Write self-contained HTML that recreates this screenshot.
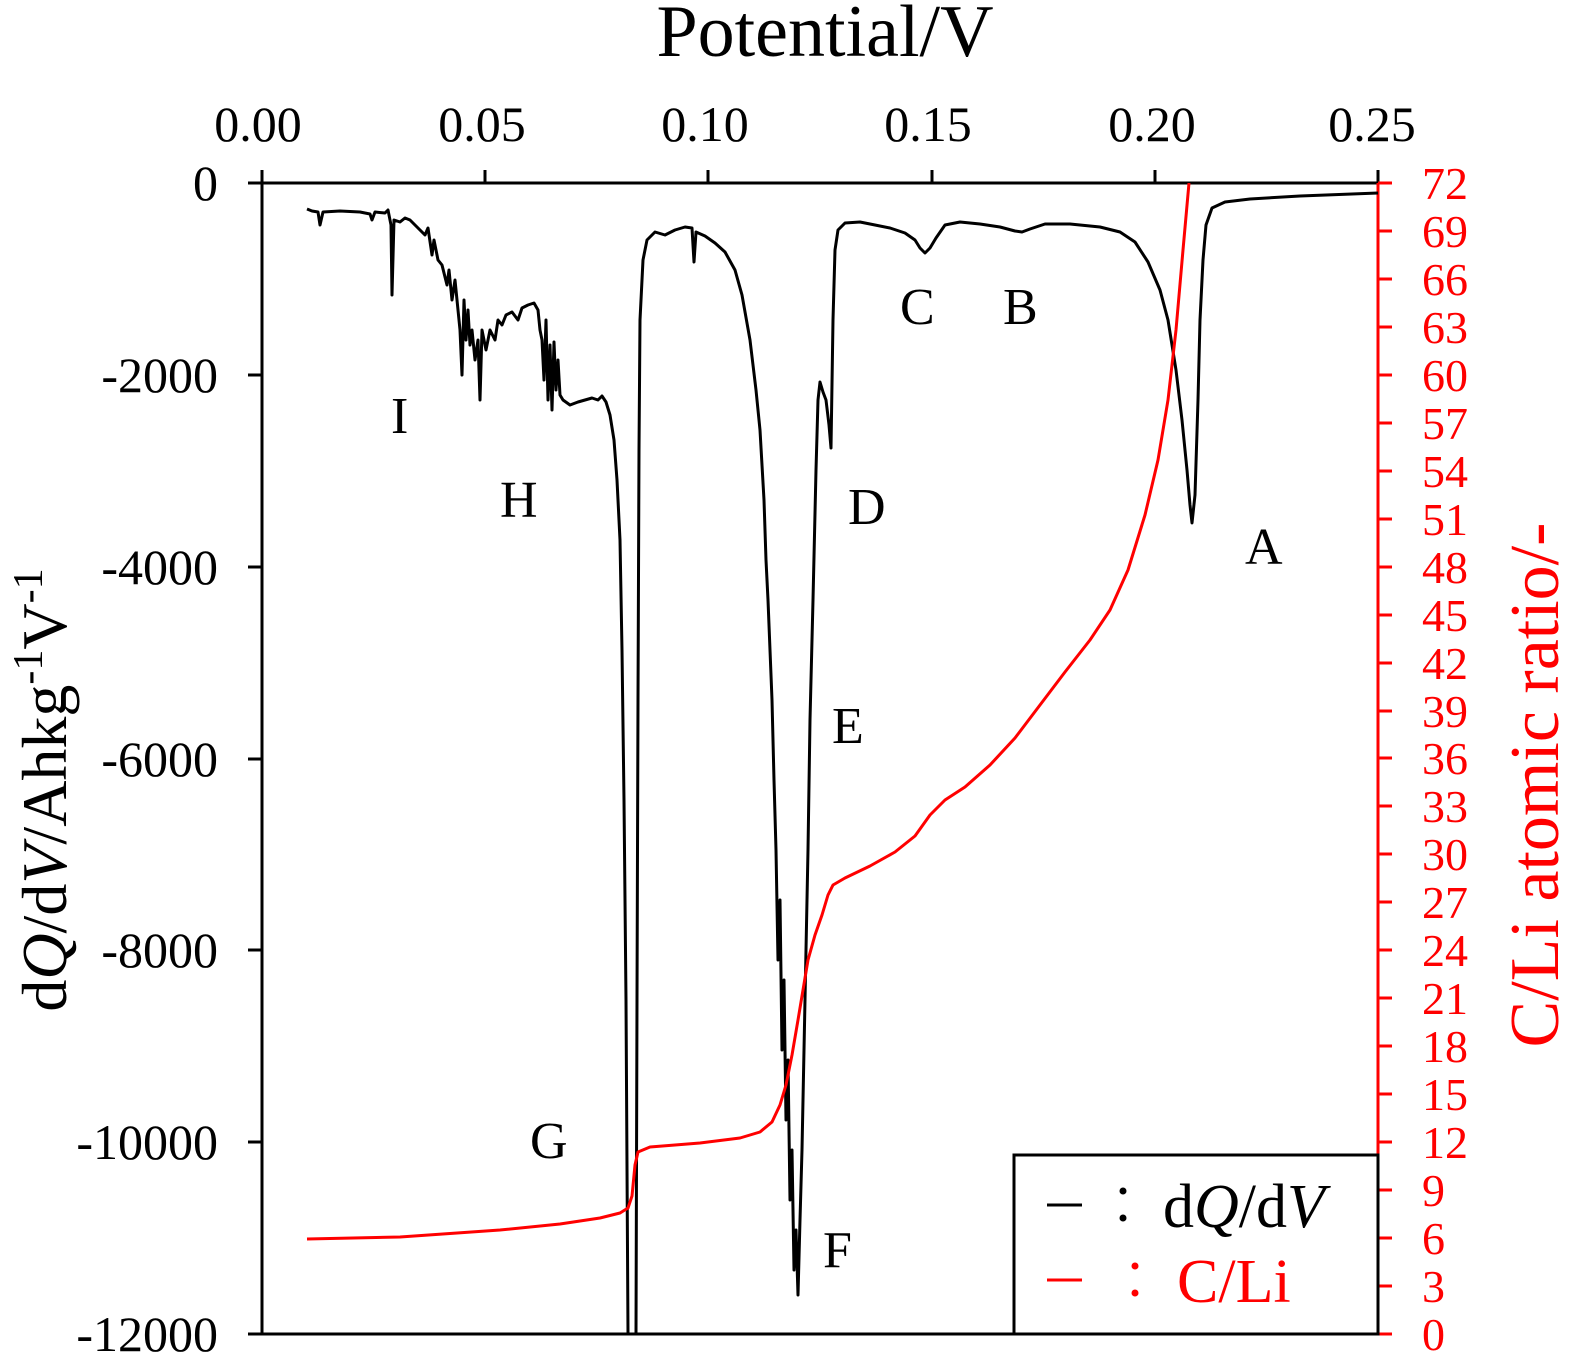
<!DOCTYPE html>
<html><head><style>
body{margin:0;background:#fff}
svg text{font-family:"Liberation Serif",serif}
</style></head><body>
<svg width="1570" height="1357" viewBox="0 0 1570 1357" xmlns="http://www.w3.org/2000/svg">
<rect width="1570" height="1357" fill="#fff"/>
<text x="825" y="56" font-size="74" text-anchor="middle">Potential/V</text>
<g font-size="50" text-anchor="middle">
<text x="258" y="141">0.00</text><text x="482" y="141">0.05</text><text x="705" y="141">0.10</text>
<text x="928" y="141">0.15</text><text x="1152" y="141">0.20</text><text x="1372" y="141">0.25</text>
</g>
<g stroke="#000" stroke-width="3">
<line x1="262" y1="183" x2="1378" y2="183"/>
<line x1="262" y1="183" x2="262" y2="1334"/>
<line x1="262" y1="1334" x2="1378" y2="1334"/>
<line x1="262" y1="170" x2="262" y2="183"/><line x1="485" y1="170" x2="485" y2="183"/>
<line x1="708" y1="170" x2="708" y2="183"/><line x1="932" y1="170" x2="932" y2="183"/>
<line x1="1155" y1="170" x2="1155" y2="183"/><line x1="1378" y1="170" x2="1378" y2="183"/>
<line x1="248" y1="183" x2="262" y2="183"/><line x1="248" y1="375" x2="262" y2="375"/>
<line x1="248" y1="567" x2="262" y2="567"/><line x1="248" y1="759" x2="262" y2="759"/>
<line x1="248" y1="950" x2="262" y2="950"/><line x1="248" y1="1142" x2="262" y2="1142"/>
<line x1="248" y1="1334" x2="262" y2="1334"/>
</g>
<g font-size="50" text-anchor="end">
<text x="218" y="200">0</text><text x="218" y="392">-2000</text><text x="218" y="584">-4000</text>
<text x="218" y="776">-6000</text><text x="218" y="967">-8000</text><text x="218" y="1159">-10000</text>
<text x="218" y="1351">-12000</text>
</g>
<text transform="translate(66,790) rotate(-90)" font-size="64" text-anchor="middle">d<tspan font-style="italic">Q</tspan>/d<tspan font-style="italic">V</tspan>/Ahkg<tspan dy="-24" font-size="42">-1</tspan><tspan dy="24">V</tspan><tspan dy="-24" font-size="42">-1</tspan></text>
<g stroke="#f00" stroke-width="3">
<line x1="1378" y1="183" x2="1378" y2="1334"/>
<line x1="1378" y1="1334" x2="1392" y2="1334"/><line x1="1378" y1="1286" x2="1392" y2="1286"/>
<line x1="1378" y1="1238" x2="1392" y2="1238"/><line x1="1378" y1="1190" x2="1392" y2="1190"/>
<line x1="1378" y1="1142" x2="1392" y2="1142"/><line x1="1378" y1="1094" x2="1392" y2="1094"/>
<line x1="1378" y1="1046" x2="1392" y2="1046"/><line x1="1378" y1="998" x2="1392" y2="998"/>
<line x1="1378" y1="950" x2="1392" y2="950"/><line x1="1378" y1="902" x2="1392" y2="902"/>
<line x1="1378" y1="854" x2="1392" y2="854"/><line x1="1378" y1="806" x2="1392" y2="806"/>
<line x1="1378" y1="758" x2="1392" y2="758"/><line x1="1378" y1="711" x2="1392" y2="711"/>
<line x1="1378" y1="663" x2="1392" y2="663"/><line x1="1378" y1="615" x2="1392" y2="615"/>
<line x1="1378" y1="567" x2="1392" y2="567"/><line x1="1378" y1="519" x2="1392" y2="519"/>
<line x1="1378" y1="471" x2="1392" y2="471"/><line x1="1378" y1="423" x2="1392" y2="423"/>
<line x1="1378" y1="375" x2="1392" y2="375"/><line x1="1378" y1="327" x2="1392" y2="327"/>
<line x1="1378" y1="279" x2="1392" y2="279"/><line x1="1378" y1="231" x2="1392" y2="231"/>
<line x1="1378" y1="183" x2="1392" y2="183"/>
</g>
<g fill="#f00" font-size="46">
<text x="1422" y="1350">0</text><text x="1422" y="1302">3</text><text x="1422" y="1254">6</text>
<text x="1422" y="1206">9</text><text x="1422" y="1158">12</text><text x="1422" y="1110">15</text>
<text x="1422" y="1062">18</text><text x="1422" y="1014">21</text><text x="1422" y="966">24</text>
<text x="1422" y="918">27</text><text x="1422" y="870">30</text><text x="1422" y="822">33</text>
<text x="1422" y="774">36</text><text x="1422" y="727">39</text><text x="1422" y="679">42</text>
<text x="1422" y="631">45</text><text x="1422" y="583">48</text><text x="1422" y="535">51</text>
<text x="1422" y="487">54</text><text x="1422" y="439">57</text><text x="1422" y="391">60</text>
<text x="1422" y="343">63</text><text x="1422" y="295">66</text><text x="1422" y="247">69</text>
<text x="1422" y="199">72</text>
</g>
<text transform="translate(1558,785) rotate(-90)" font-size="70" fill="#f00" text-anchor="middle">C/Li atomic ratio/-</text>
<path fill="none" stroke="#000" stroke-width="3" stroke-linejoin="round" d="M307,209 L312,211 318,212 320,225 323,212 340,211 360,212 370,214 372,220 375,212 385,213 388,210 391,225 392,295 394,220 400,222 405,218 410,220 415,225 420,230 425,235 428,228 432,255 434,240 438,260 442,265 447,285 449,270 452,300 455,280 458,310 460,330 462,375 464,300 466,340 468,310 470,345 472,330 475,360 478,340 480,400 482,330 486,350 490,330 495,340 498,320 502,325 506,315 512,312 518,320 522,308 528,305 534,303 538,310 540,330 542,340 544,380 546,320 548,400 550,345 552,410 554,342 556,390 558,360 560,395 563,400 570,405 578,402 585,400 592,398 598,400 602,396 606,402 610,415 614,440 617,480 620,540 622,650 624,800 626,1000 628,1334 M636,1334 L637,1000 638,700 639,450 640,320 643,260 647,240 655,232 665,235 675,230 685,227 692,228 694,262 696,232 705,236 715,243 725,252 735,270 742,295 750,340 756,390 760,430 764,500 766,560 768,600 770,650 772,700 774,780 776,850 778,960 780,900 782,1050 784,980 786,1120 788,1060 790,1200 792,1150 794,1270 796,1230 798,1295 800,1220 802,1150 805,1000 808,850 810,720 813,600 816,470 818,400 820,382 823,392 826,400 829,425 831,448 833,320 835,250 838,230 845,223 860,222 875,225 890,228 905,233 915,240 920,248 925,253 930,248 936,238 945,225 960,222 980,224 1000,227 1015,231 1022,232 1030,229 1045,224 1070,224 1100,227 1120,232 1135,242 1148,262 1160,290 1168,320 1176,370 1182,420 1187,470 1190,505 1192,523 1195,495 1198,400 1200,320 1203,260 1206,225 1212,208 1225,202 1250,199 1300,196 1378,193"/>
<path fill="none" stroke="#f00" stroke-width="3" stroke-linejoin="round" d="M307,1239 L400,1237 500,1230 560,1224 600,1218 620,1213 628,1208 632,1196 635,1165 638,1152 650,1147 700,1143 740,1138 760,1132 772,1122 780,1105 786,1085 792,1055 798,1020 803,990 808,960 815,935 822,915 828,895 833,885 845,878 870,866 895,852 915,836 930,815 945,800 965,787 990,765 1015,738 1040,705 1065,672 1090,640 1110,610 1128,570 1145,515 1158,460 1168,400 1176,330 1183,250 1189,183"/>
<g font-size="52">
<text x="391" y="433">I</text><text x="500" y="517">H</text><text x="530" y="1158">G</text>
<text x="823" y="1267">F</text><text x="832" y="743">E</text><text x="848" y="524">D</text>
<text x="900" y="324">C</text><text x="1003" y="324">B</text><text x="1245" y="564">A</text>
</g>
<rect x="1014" y="1155" width="364" height="179" fill="#fff" stroke="#000" stroke-width="3"/>
<line x1="1047" y1="1205" x2="1082" y2="1205" stroke="#000" stroke-width="3"/>
<line x1="1047" y1="1280" x2="1082" y2="1280" stroke="#f00" stroke-width="3"/>
<circle cx="1123" cy="1191" r="3.5"/><circle cx="1123" cy="1218" r="3.5"/>
<circle cx="1135" cy="1266" r="3.5" fill="#f00"/><circle cx="1135" cy="1293" r="3.5" fill="#f00"/>
<text x="1163" y="1227" font-size="62">d<tspan font-style="italic">Q</tspan>/d<tspan font-style="italic">V</tspan></text>
<text x="1177" y="1302" font-size="62" fill="#f00">C/Li</text>
</svg>
</body></html>
